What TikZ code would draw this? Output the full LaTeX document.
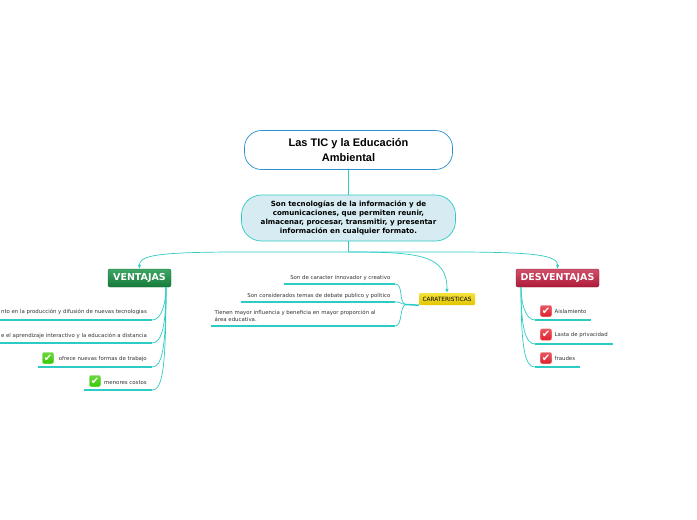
\documentclass[tikz,border=0pt]{standalone}
\usepackage{fontspec}
\setmainfont{DejaVu Sans}
\newfontfamily\titlefont{Liberation Sans}
\usetikzlibrary{calc,arrows.meta}
\definecolor{tealline}{HTML}{2CCBC3}
\definecolor{titleblue}{HTML}{2A8FD0}
\definecolor{descfill}{HTML}{D6ECF2}
\definecolor{okgreen}{HTML}{38C900}
\definecolor{badred}{HTML}{E0202C}
\definecolor{vdark}{HTML}{14703A}
\definecolor{vtop}{HTML}{3FA565}
\definecolor{vbot}{HTML}{157A3A}
\definecolor{ddark}{HTML}{8C1430}
\definecolor{dtop}{HTML}{D0506A}
\definecolor{dbot}{HTML}{AE1A38}
\definecolor{ctop}{HTML}{F5E23C}
\definecolor{cbot}{HTML}{E2C400}
\tikzset{
    conn/.style={draw=tealline,line width=0.7pt},
    arrowconn/.style={conn,-{Latex[length=4pt,width=3.5pt]}},
    leafline/.style={draw=tealline,line width=1.5pt},
    leaftext/.style={font=\fontsize{5.4}{7}\selectfont,text=black!80,inner sep=0pt},
    branchbox/.style={rounded corners=2pt,minimum height=18pt,inner sep=0pt,text=white,font=\bfseries\fontsize{9.5}{10}\selectfont},
    okicon/.style={rounded corners=2pt,minimum size=11.5pt,inner sep=0pt,text=white,draw=#1!40,top color=#1!75,bottom color=#1,font=\fontsize{10}{10}\selectfont},
}
\begin{document}
\begin{tikzpicture}[x=1pt,y=-1pt]
    \useasboundingbox (0,0) rectangle (697,520);
    \clip (0,0) rectangle (697,520);
    % central part
    \coordinate (hub) at (348.5,252);
    \node[rounded corners=17pt,draw=titleblue,line width=0.7pt,fill=white,minimum width=208pt,minimum height=39pt,align=center,inner sep=0pt,font=\titlefont\bfseries\fontsize{11}{14.3}\selectfont] (title) at (348.5,150) {Las TIC y la Educación\\Ambiental};
    \node[rounded corners=20pt,draw=tealline,line width=0.7pt,fill=descfill,minimum width=214pt,minimum height=46pt,align=center,inner sep=0pt,font=\bfseries\fontsize{7.1}{9}\selectfont] (desc) at (348.5,218) {Son tecnologías de la información y de\\comunicaciones, que permiten reunir,\\almacenar, procesar, transmitir, y presentar\\información en cualquier formato.};
    \draw[conn,line width=1pt] (title) -- (desc);
    \draw[conn,line width=1pt] (desc) -- (hub);

    % branches
    \node[branchbox,draw=vdark,top color=vtop,bottom color=vbot,minimum width=63pt] (ventajas) at (139.5,278) {VENTAJAS};
    \node[branchbox,draw=ddark,top color=dtop,bottom color=dbot,minimum width=83pt] (desventajas) at (557.5,278) {DESVENTAJAS};
    \node[rounded corners=1pt,top color=ctop,bottom color=cbot,minimum width=56pt,minimum height=12pt,inner sep=0pt,font=\fontsize{5.8}{6}\selectfont] (carac) at (447,299) {CARATERISTICAS};
    \draw[arrowconn] (hub) .. controls (190,252) and (139,250) .. (ventajas.north);
    \draw[arrowconn] (hub) .. controls (500,252) and (558,250) .. (desventajas.north);
    \draw[arrowconn] (hub) .. controls (420,252) and (447,255) .. (carac.north);

    % ventajas
    \node[leaftext,anchor=south east] (v1) at (147,315) {nto en la producción y difusión de nuevas tecnologias};
    \node[leaftext,anchor=south east] (v2) at (147,338.5) {e el aprendizaje interactivo y la educación a distancia};
    \node[leaftext,anchor=south east] (v3) at (147,361.5) {ofrece nuevas formas de trabajo};
    \node[leaftext,anchor=south east] (v4) at (147,385) {menores costos};
    \node[okicon=okgreen] (vi3) at (48,358) {✔};
    \node[okicon=okgreen] (vi4) at (95,381) {✔};
    \coordinate (va1) at (0,320); \coordinate (vb1) at (152,320);
    \coordinate (va2) at (0,343); \coordinate (vb2) at (152,343);
    \coordinate (va3) at (38,367); \coordinate (vb3) at (152,367);
    \coordinate (va4) at (84,390); \coordinate (vb4) at (152,390);
    \foreach \i/\y in {1/320,2/343,3/367,4/390}{
        \draw[leafline] (va\i) -- (vb\i);
        \draw[conn] (166,287) .. controls (166,\y-18) and (162,\y) .. (vb\i);
    }

    % caracteristicas
    \node[leaftext,anchor=south east] (c1) at (390.5,280.5) {Son de caracter innovador y creativo};
    \node[leaftext,anchor=south east] (c2) at (390.5,298.5) {Son considerados temas de debate publico y politico};
    \node[leaftext,anchor=north west,align=left] (c3) at (214.5,310) {Tienen mayor influencia y beneficia en mayor proporción al\\área educativa.};
    \coordinate (ca1) at (284,284); \coordinate (cb1) at (395,284);
    \coordinate (ca2) at (241,302); \coordinate (cb2) at (395,302);
    \coordinate (ca3) at (211,326); \coordinate (cb3) at (395,326);
    \coordinate (cj) at (406,304.5);
    \draw[leafline] (carac.south west) -- (cj);
    \draw[leafline] (ca1) -- (cb1);
    \draw[leafline] (ca2) -- (cb2);
    \draw[leafline] (ca3) -- (cb3);
    \draw[conn] (cj) .. controls (398,303) and (404,284) .. (cb1);
    \draw[conn] (cj) .. controls (400,304) and (402,302) .. (cb2);
    \draw[conn] (cj) .. controls (399,306) and (403,326) .. (cb3);

    % desventajas
    \node[okicon=badred] (di1) at (546,311) {✔};
    \node[okicon=badred] (di2) at (546,334.5) {✔};
    \node[okicon=badred] (di3) at (546,358) {✔};
    \node[leaftext,anchor=west] (d1) at (554.5,311.5) {Aislamiento};
    \node[leaftext,anchor=west] (d2) at (554.5,335.5) {Lasta de privacidad};
    \node[leaftext,anchor=west] (d3) at (554.5,358.5) {fraudes};
    \coordinate (da1) at (535,320); \coordinate (db1) at (591,320);
    \coordinate (da2) at (535,344); \coordinate (db2) at (613,344);
    \coordinate (da3) at (535,367); \coordinate (db3) at (580,367);
    \foreach \i/\y in {1/320,2/344,3/367}{
        \draw[leafline] (da\i) -- (db\i);
        \draw[conn] (521,287) .. controls (521,\y-18) and (525,\y) .. (da\i);
    }
\end{tikzpicture}
\end{document}
